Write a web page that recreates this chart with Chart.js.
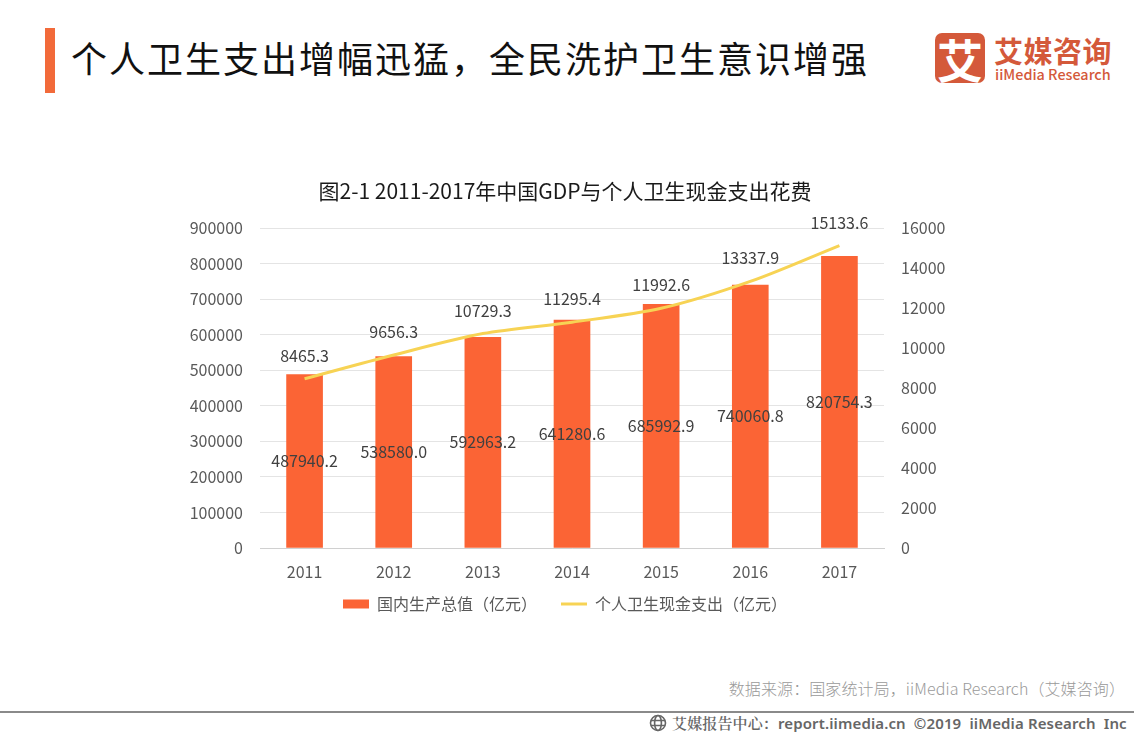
<!DOCTYPE html>
<html>
<head>
<meta charset="utf-8">
<script src="https://cdn.jsdelivr.net/npm/chart.js@4"></script>
<style>
  html, body { margin: 0; padding: 0; background: #fff; }
  body { position: relative; width: 1134px; height: 737px; overflow: hidden; font-family: "Noto Sans CJK SC", "Noto Sans", sans-serif; }
  .abs { position: absolute; white-space: nowrap; }
  #accent { left: 45px; top: 28px; width: 10px; height: 65px; background: #f26a3a; }
  #heading { left: 71px; top: 31px; font-size: 36px; line-height: 52px; letter-spacing: 2px; color: #111; }
  #logoBox { left: 935px; top: 33px; width: 50px; height: 50px; border-radius: 7px; background: #d4593a; color: #fff; font-size: 46px; font-weight: 700; line-height: 50px; text-align: center; }
  #logoCn { left: 994px; top: 30px; font-size: 29px; line-height: 40px; font-weight: 700; color: #d4593a; letter-spacing: .5px; }
  #logoEn { left: 995px; top: 64px; font-size: 14.4px; line-height: 20px; font-weight: 500; color: #d4593a; }
  #wrap { left: 180px; top: 175px; width: 770px; height: 462px; }
  #source { right: 9px; top: 676px; font-size: 16px; line-height: 24px; font-weight: 300; color: #9a9a9a; letter-spacing: .1px; }
  #rule { left: 0; top: 711px; width: 1134px; height: 2px; background: #8a8a8a; }
  #footer { left: 672px; top: 712px; font-family: "Noto Sans", "Noto Serif CJK SC", sans-serif; font-size: 15px; line-height: 22px; font-weight: 600; color: #666; white-space: pre; letter-spacing: .13px; }
  #globe { left: 649px; top: 714px; }
</style>
</head>
<body>
<div class="abs" id="accent"></div>
<div class="abs" id="heading">个人卫生支出增幅迅猛，全民洗护卫生意识增强</div>
<div class="abs" id="logoBox">艾</div>
<div class="abs" id="logoCn">艾媒咨询</div>
<div class="abs" id="logoEn">iiMedia Research</div>
<div class="abs" id="wrap"><canvas id="chart" width="770" height="462"></canvas></div>
<div class="abs" id="source">数据来源：国家统计局，iiMedia Research（艾媒咨询）</div>
<div class="abs" id="rule"></div>
<svg class="abs" id="globe" width="18" height="18" viewBox="0 0 18 18" fill="none" stroke="#666" stroke-width="1.6">
  <circle cx="9" cy="9" r="7.5"/><ellipse cx="9" cy="9" rx="3.4" ry="7.5"/><path d="M2 6.5h14M2 11.5h14"/>
</svg>
<div class="abs" id="footer">艾媒报告中心：report.iimedia.cn  ©2019  iiMedia Research  Inc</div>
<script>
const years = ["2011", "2012", "2013", "2014", "2015", "2016", "2017"];
const gdp = [487940.2, 538580.0, 592963.2, 641280.6, 685992.9, 740060.8, 820754.3];
const healthSpend = [8465.3, 9656.3, 10729.3, 11295.4, 11992.6, 13337.9, 15133.6];
const gdpName = "国内生产总值（亿元）";
const spendName = "个人卫生现金支出（亿元）";
const chartTitle = "图2-1 2011-2017年中国GDP与个人卫生现金支出花费";

const textColor = "#595959";
const fontFamily = '"Noto Sans CJK SC", "Noto Sans", sans-serif';

//draws the value labels, centre of bar and above line point
const valueLabels = {
  id: "valueLabels",
  afterDatasetsDraw(chart) {
    const ctx = chart.ctx;
    ctx.save();
    ctx.font = "16px " + fontFamily;
    ctx.fillStyle = "#404040";
    ctx.textAlign = "center";
    ctx.textBaseline = "middle";
    chart.getDatasetMeta(0).data.forEach((bar, i) => {
      ctx.fillText(gdp[i].toFixed(1), bar.x, (bar.y + bar.base) / 2);
    });
    chart.getDatasetMeta(1).data.forEach((pt, i) => {
      ctx.fillText(healthSpend[i].toFixed(1), pt.x, pt.y - 23);
    });
    ctx.restore();
  },
};

//big labels.padding pushes the legend text down, so pull the legend back up
const legendShift = {
  id: "legendShift",
  afterLayout(chart) {
    chart.legend.top -= 15;
  },
};

//plain numbers on the value axes, no thousands separator
const plainTick = (value) => String(value);

new Chart(document.getElementById("chart"), {
  plugins: [valueLabels, legendShift],
  data: {
    labels: years,
    datasets: [
      {
        type: "bar",
        label: gdpName,
        data: gdp,
        yAxisID: "y",
        order: 2,
        backgroundColor: "#fb6435",
        borderWidth: 0,
        pointStyle: "rect",
        barThickness: 36,
      },
      {
        type: "line",
        label: spendName,
        data: healthSpend,
        yAxisID: "y1",
        order: 1,
        borderColor: "#f7d354",
        backgroundColor: "#f7d354",
        borderWidth: 3,
        pointRadius: 0,
        pointStyle: "line",
        tension: 0.3,
      },
    ],
  },
  options: {
    responsive: false,
    animation: false,
    devicePixelRatio: 1,
    layout: { padding: 0 },
    plugins: {
      tooltip: { enabled: false },
      title: {
        display: true,
        text: chartTitle,
        color: "#1a1a1a",
        font: { family: fontFamily, size: 21, weight: "normal", lineHeight: 1.2 },
        padding: { top: 3, bottom: 25 },
      },
      legend: {
        position: "bottom",
        labels: {
          usePointStyle: true,
          pointStyleWidth: 26,
          boxHeight: 9,
          padding: 24,
          color: textColor,
          font: { family: fontFamily, size: 16 },
          sort: (a, b) => a.datasetIndex - b.datasetIndex,
        },
      },
    },
    scales: {
      x: {
        grid: { display: false, drawTicks: false },
        border: { color: "#d0d0d0" },
        ticks: { color: textColor, font: { family: fontFamily, size: 16 }, padding: 14, maxRotation: 0 },
        afterFit(scale) { scale.height = 39; },
      },
      y: {
        position: "left",
        min: 0,
        max: 900000,
        grid: { color: "#e4e4e4", drawTicks: false },
        border: { display: false },
        ticks: { stepSize: 100000, color: textColor, font: { family: fontFamily, size: 16 }, padding: 17, callback: plainTick },
        afterFit(scale) { scale.width = 80; },
      },
      y1: {
        position: "right",
        min: 0,
        max: 16000,
        grid: { display: false, drawTicks: false },
        border: { display: false },
        ticks: { stepSize: 2000, color: textColor, font: { family: fontFamily, size: 16 }, padding: 17, callback: plainTick },
        afterFit(scale) { scale.width = 66; },
      },
    },
  },
});
</script>
</body>
</html>
